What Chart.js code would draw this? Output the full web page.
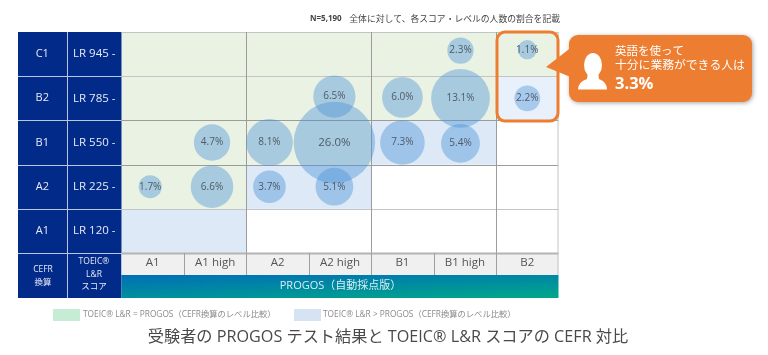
<!DOCTYPE html>
<html lang="ja">
<head>
<meta charset="utf-8">
<title>PROGOS / TOEIC</title>
<script src="https://cdn.jsdelivr.net/npm/chart.js@4"></script>
<style>
  html, body { margin: 0; padding: 0; background: #fff; }
  #wrap { position: relative; width: 768px; height: 355px; }
  canvas { display: block; }
</style>
</head>
<body>
<div id="wrap"><canvas id="progosChart" width="768" height="355"></canvas></div>
<script>
const progosLabels = ['A1', 'A1 high', 'A2', 'A2 high', 'B1', 'B1 high', 'B2'];
const cefrLabels = ['A1', 'A2', 'B1', 'B2', 'C1'];
const lrLabels = ['LR 120 -', 'LR 225 -', 'LR 550 -', 'LR 785 -', 'LR 945 -'];

// bubbles (they sit slightly off the cell centres)
const shareValues = [1.7, 6.6, 3.7, 5.1, 4.7, 8.1, 26.0, 7.3, 5.4, 6.5, 6.0, 13.1, 2.2, 2.3, 1.1];
const shareColumn = [-0.04, 0.95, 1.87, 2.91, 0.95, 1.87, 2.91, 4.0, 4.93, 2.91, 4.0, 4.93, 6.0, 4.93, 6.0];
const shareRow = [1, 1, 1, 1, 2, 2, 2, 2, 1.98, 3.04, 3.02, 3.0, 3.0, 4.08, 4.1];

const navy = '#022a88';
const font = '"Open Sans", "Noto Sans CJK JP", sans-serif';

// the largest bubble radius would otherwise push the plot area down
Chart.BubbleController.prototype.getMaxOverflow = function() { return 0; };

function text(ctx, str, x, y, size, color, align, weight) {
    ctx.font = (weight || 'normal') + ' ' + size + 'px ' + font;
    ctx.fillStyle = color;
    ctx.textAlign = align || 'center';
    ctx.textBaseline = 'middle';
    ctx.fillText(str, x, y);
}

// one tick per label, at the centre of each cell
function ticksFrom(labels) {
    return function(scale) {
        scale.ticks = labels.map(function(_, i) { return { value: i }; });
    };
}

// shaded cell from column/row range, through the scales
function cellFill(chart, c0, c1, r0, r1, color) {
    const xs = chart.scales.x, ys = chart.scales.y;
    const left = xs.getPixelForValue(c0 - 0.5), right = xs.getPixelForValue(c1 + 0.5);
    const top = ys.getPixelForValue(r1 + 0.5), bottom = ys.getPixelForValue(r0 - 0.5);
    chart.ctx.fillStyle = color;
    chart.ctx.fillRect(left, top, right - left, bottom - top);
}

const backdrop = {
    id: 'backdrop',
    beforeDraw(chart) {
        const ctx = chart.ctx, a = chart.chartArea, xs = chart.scales.x, ys = chart.scales.y;
        const green = '#eaf3e3', blue = '#dde9f6';

        cellFill(chart, 0, 1, 1, 4, green);
        cellFill(chart, 2, 3, 2, 4, green);
        cellFill(chart, 4, 5, 3, 4, green);
        cellFill(chart, 6, 6, 4, 4, green);
        cellFill(chart, 0, 1, 0, 0, blue);
        cellFill(chart, 2, 3, 1, 1, blue);
        cellFill(chart, 4, 5, 2, 2, blue);
        cellFill(chart, 6, 6, 3, 3, '#e8f1fb');

        // navy header columns
        const bandBottom = 298;
        ctx.fillStyle = navy;
        ctx.fillRect(18, a.top, a.left - 18, bandBottom - a.top);
        ctx.strokeStyle = '#b9c6e2';
        ctx.lineWidth = 1;
        ctx.beginPath();
        ctx.moveTo(67.5, a.top); ctx.lineTo(67.5, bandBottom);
        for (let r = 0; r <= 4; r++) {
            const y = Math.round(ys.getPixelForValue(r - 0.5)) + 0.5;
            ctx.moveTo(18, y); ctx.lineTo(a.left, y);
        }
        ctx.stroke();

        // grid: horizontal rows
        for (let r = 0; r <= 5; r++) {
            const y = Math.round(ys.getPixelForValue(r - 0.5)) + 0.5;
            ctx.strokeStyle = (r === 2 || r === 3) ? '#9c9c9c' : '#c4c4c4';
            ctx.beginPath(); ctx.moveTo(a.left, y); ctx.lineTo(a.right, y); ctx.stroke();
        }
        // grid: every second column
        [2, 4, 6].forEach(function(c) {
            const x = Math.round(xs.getPixelForValue(c - 0.5)) + 0.5;
            ctx.strokeStyle = '#9c9c9c';
            ctx.beginPath(); ctx.moveTo(x, a.top); ctx.lineTo(x, a.bottom); ctx.stroke();
        });
        ctx.strokeStyle = '#c4c4c4';
        ctx.beginPath(); ctx.moveTo(a.right - 0.5, a.top); ctx.lineTo(a.right - 0.5, a.bottom); ctx.stroke();

        // PROGOS level row
        ctx.fillStyle = '#f0f0f0';
        ctx.fillRect(a.left, a.bottom, a.right - a.left, 22);
        ctx.strokeStyle = '#b4b4b4';
        ctx.lineWidth = 2;
        ctx.beginPath(); ctx.moveTo(a.left, a.bottom + 0.5); ctx.lineTo(a.right, a.bottom + 0.5); ctx.stroke();
        ctx.lineWidth = 1;
        ctx.strokeStyle = '#a0a0a0';
        for (let c = 1; c <= 6; c++) {
            const x = Math.round(xs.getPixelForValue(c - 0.5)) + 0.5;
            ctx.beginPath(); ctx.moveTo(x, a.bottom); ctx.lineTo(x, a.bottom + 22); ctx.stroke();
        }
        ctx.strokeStyle = '#c4c4c4';
        ctx.beginPath(); ctx.moveTo(a.right - 0.5, a.bottom); ctx.lineTo(a.right - 0.5, a.bottom + 22); ctx.stroke();

        // gradient band
        const g = ctx.createLinearGradient(a.left, 276, a.left + 1.4, 314);
        g.addColorStop(0, '#0070b6');
        g.addColorStop(1, '#00a88a');
        ctx.fillStyle = g;
        ctx.fillRect(a.left, a.bottom + 22, a.right - a.left, bandBottom - a.bottom - 22);
    }
};

const annotations = {
    id: 'annotations',
    afterDatasetsDraw(chart) {
        const ctx = chart.ctx, a = chart.chartArea;

        // percentage inside each bubble
        chart.getDatasetMeta(0).data.forEach(function(pt, i) {
            const v = shareValues[i];
            text(ctx, v.toFixed(1) + '%', pt.x, pt.y, v === 26 ? 11.5 : 10, '#4f5a66');
        });

        // highlight outline around B2 column
        ctx.strokeStyle = '#ed7d31';
        ctx.lineWidth = 3;
        ctx.beginPath();
        ctx.roundRect(497, 32, 61, 89, 8);
        ctx.stroke();
        ctx.lineWidth = 1;

        // callout
        ctx.save();
        ctx.shadowColor = 'rgba(0,0,0,0.35)';
        ctx.shadowBlur = 4;
        ctx.shadowOffsetX = 1;
        ctx.shadowOffsetY = 1;
        ctx.fillStyle = '#ed7d31';
        ctx.beginPath();
        ctx.roundRect(569, 35, 183, 67, 9);
        ctx.fill();
        ctx.restore();
        ctx.fillStyle = '#ed7d31';
        ctx.beginPath();
        ctx.moveTo(573, 46); ctx.lineTo(546, 67); ctx.lineTo(573, 78);
        ctx.closePath();
        ctx.fill();

        // person icon
        ctx.fillStyle = '#fff';
        ctx.beginPath();
        ctx.ellipse(593, 65, 9, 12, 0, 0, Math.PI * 2);
        ctx.fill();
        ctx.beginPath();
        ctx.moveTo(578, 89.5);
        ctx.quadraticCurveTo(578, 82, 587, 79);
        ctx.lineTo(588, 72); ctx.lineTo(598, 72); ctx.lineTo(599, 79);
        ctx.quadraticCurveTo(607, 82, 607, 89.5);
        ctx.closePath();
        ctx.fill();

        text(ctx, '英語を使って', 615, 52, 11.5, '#fff', 'left');
        text(ctx, '十分に業務ができる人は', 615, 66, 11.8, '#fff', 'left');
        text(ctx, '3.3%', 615, 84, 16.5, '#fff', 'left', 'bold');

        // header corner
        text(ctx, 'CEFR', 43, 270, 8.5, '#e6ebf7');
        text(ctx, '換算', 43, 283, 8.5, '#e6ebf7');
        text(ctx, 'TOEIC®', 94, 262, 8.5, '#e6ebf7');
        text(ctx, 'L&R', 94, 274.5, 8.5, '#e6ebf7');
        text(ctx, 'スコア', 94, 287, 8.5, '#e6ebf7');
        text(ctx, 'PROGOS（自動採点版）', (a.left + a.right) / 2 + 0.5, 286, 11, '#d8eef0');

        // top note
        text(ctx, 'N=5,190', 310, 19, 8, '#444', 'left', 'bold');
        text(ctx, '全体に対して、各スコア・レベルの人数の割合を記載', 560, 19, 8.8, '#444', 'right');

        // legend
        ctx.fillStyle = '#c6ecd6';
        ctx.fillRect(53, 309, 27, 12);
        text(ctx, 'TOEIC® L&R = PROGOS（CEFR換算のレベル比較）', 83, 315, 8.3, '#8a8a8a', 'left');
        ctx.fillStyle = '#d5e3f3';
        ctx.fillRect(294, 309, 27, 12);
        text(ctx, 'TOEIC® L&R > PROGOS（CEFR換算のレベル比較）', 323, 315, 8.3, '#8a8a8a', 'left');

        // caption
        text(ctx, '受験者の PROGOS テスト結果と TOEIC® L&R スコアの CEFR 対比', 388, 337, 16.2, '#4a4a4a');
    }
};

new Chart(document.getElementById('progosChart'), {
    type: 'bubble',
    plugins: [backdrop, annotations],
    data: {
        datasets: [{
            label: 'share',
            data: shareValues.map(function(v, i) {
                return { x: shareColumn[i], y: shareRow[i], r: 1.5 + 7.7 * Math.sqrt(v) };
            }),
            backgroundColor: 'rgba(75,145,215,0.42)',
            borderWidth: 0,
            clip: false
        }]
    },
    options: {
        responsive: false,
        animation: false,
        layout: { padding: { left: 18, top: 32, right: 209.5, bottom: 0 } },
        plugins: {
            legend: { display: false },
            tooltip: { enabled: false }
        },
        scales: {
            x: {
                type: 'linear',
                min: -0.5,
                max: 6.5,
                grid: { display: false, drawTicks: false },
                border: { display: false },
                afterBuildTicks: ticksFrom(progosLabels),
                afterFit(scale) { scale.height = 102; },
                ticks: {
                    autoSkip: false,
                    maxRotation: 0,
                    padding: 3,
                    color: '#555',
                    font: { size: 11.5, family: font },
                    callback: function(v) { return progosLabels[v]; }
                }
            },
            y: {
                type: 'linear',
                position: 'left',
                weight: 0,
                min: -0.5,
                max: 4.5,
                grid: { display: false, drawTicks: false },
                border: { display: false },
                afterBuildTicks: ticksFrom(lrLabels),
                afterFit(scale) { scale.width = 53.5; },
                ticks: {
                    autoSkip: false,
                    crossAlign: 'center',
                    padding: 6,
                    color: '#e6ebf7',
                    font: { size: 11.5, family: font },
                    callback: function(v) { return lrLabels[v]; }
                }
            },
            cefr: {
                type: 'linear',
                position: 'left',
                weight: 1,
                min: -0.5,
                max: 4.5,
                grid: { display: false, drawTicks: false },
                border: { display: false },
                afterBuildTicks: ticksFrom(cefrLabels),
                afterFit(scale) { scale.width = 50; },
                ticks: {
                    autoSkip: false,
                    crossAlign: 'center',
                    padding: 19,
                    color: '#e6ebf7',
                    font: { size: 11, family: font },
                    callback: function(v) { return cefrLabels[v]; }
                }
            }
        }
    }
});
</script>
</body>
</html>
